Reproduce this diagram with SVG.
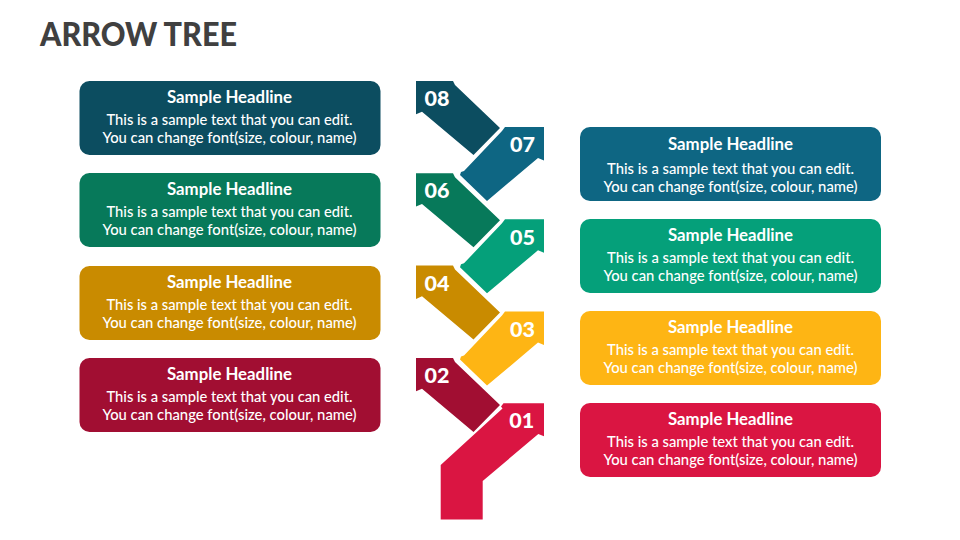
<svg xmlns="http://www.w3.org/2000/svg" xmlns:xlink="http://www.w3.org/1999/xlink" width="960" height="540" viewBox="0 0 960 540">
<style>
.title{font-family:Lato,"Open Sans","Liberation Sans",sans-serif;font-weight:900;font-size:32px;fill:#404040}
.hl{font-family:Lato,"Open Sans","Liberation Sans",sans-serif;font-weight:700;font-size:16.5px;fill:#ffffff;text-anchor:middle}
.bd{font-family:Lato,"Open Sans","Liberation Sans",sans-serif;font-weight:500;font-size:15px;fill:#ffffff;text-anchor:middle}
.num{font-family:Lato,"Open Sans","Liberation Sans",sans-serif;font-weight:900;font-size:21.5px;fill:#ffffff;text-anchor:middle}
</style>
<defs>
<polygon id="arrowL" points="416,0 453,0 455,4 500,47 473.5,74 422,30.7 416,33.3"/>
<polygon id="arrowR" points="544,0 505,0 502,4 464,44 461,45 460,48 487,74 538,31 544,33.5"/>
<rect id="box" x="0" y="0" width="301" height="74" rx="10" ry="10"/>
</defs>
<rect x="0" y="0" width="960" height="540" fill="#ffffff"/>
<text class="title" x="40" y="46" textLength="197" lengthAdjust="spacingAndGlyphs">ARROW TREE</text>

<!-- Arrows -->
<g id="arrow-08"><use xlink:href="#arrowL" href="#arrowL" y="81" fill="#0C4D60"/><text class="num" x="437" y="106">08</text></g>
<g id="arrow-07"><use xlink:href="#arrowR" href="#arrowR" y="127" fill="#0E6683"/><text class="num" x="522.5" y="152.3">07</text></g>
<g id="arrow-06"><use xlink:href="#arrowL" href="#arrowL" y="173.3" fill="#07795A"/><text class="num" x="437" y="198.3">06</text></g>
<g id="arrow-05"><use xlink:href="#arrowR" href="#arrowR" y="219.3" fill="#05A07A"/><text class="num" x="522.5" y="244.6">05</text></g>
<g id="arrow-04"><use xlink:href="#arrowL" href="#arrowL" y="265.6" fill="#C98B00"/><text class="num" x="437" y="290.6">04</text></g>
<g id="arrow-03"><use xlink:href="#arrowR" href="#arrowR" y="311.6" fill="#FEB514"/><text class="num" x="522.5" y="336.9">03</text></g>
<g id="arrow-02"><use xlink:href="#arrowL" href="#arrowL" y="358" fill="#A10E32"/><text class="num" x="437" y="383">02</text></g>
<g id="arrow-01"><polygon points="544,403.3 503.5,403.3 501,406.5 502.5,408.5 440.7,465 440.7,519.5 482.7,519.5 482.7,481 538.3,434 544,436.3" fill="#DA1542"/><text class="num" x="521.7" y="428.3">01</text></g>

<!-- Left boxes -->
<g id="box-08" transform="translate(79.5,81)"><use xlink:href="#box" href="#box" fill="#0C4D60"/>
<text class="hl" x="150" y="22.3" textLength="125" lengthAdjust="spacingAndGlyphs">Sample Headline</text>
<text class="bd" x="150" y="44" textLength="246" lengthAdjust="spacingAndGlyphs">This is a sample text that you can edit.</text>
<text class="bd" x="150" y="62.3" textLength="254" lengthAdjust="spacingAndGlyphs">You can change font(size, colour, name)</text></g>
<g id="box-06" transform="translate(79.5,173)"><use xlink:href="#box" href="#box" fill="#07795A"/>
<text class="hl" x="150" y="22.3" textLength="125" lengthAdjust="spacingAndGlyphs">Sample Headline</text>
<text class="bd" x="150" y="44" textLength="246" lengthAdjust="spacingAndGlyphs">This is a sample text that you can edit.</text>
<text class="bd" x="150" y="62.3" textLength="254" lengthAdjust="spacingAndGlyphs">You can change font(size, colour, name)</text></g>
<g id="box-04" transform="translate(79.5,266)"><use xlink:href="#box" href="#box" fill="#C98B00"/>
<text class="hl" x="150" y="22.3" textLength="125" lengthAdjust="spacingAndGlyphs">Sample Headline</text>
<text class="bd" x="150" y="44" textLength="246" lengthAdjust="spacingAndGlyphs">This is a sample text that you can edit.</text>
<text class="bd" x="150" y="62.3" textLength="254" lengthAdjust="spacingAndGlyphs">You can change font(size, colour, name)</text></g>
<g id="box-02" transform="translate(79.5,358)"><use xlink:href="#box" href="#box" fill="#A10E32"/>
<text class="hl" x="150" y="22.3" textLength="125" lengthAdjust="spacingAndGlyphs">Sample Headline</text>
<text class="bd" x="150" y="44" textLength="246" lengthAdjust="spacingAndGlyphs">This is a sample text that you can edit.</text>
<text class="bd" x="150" y="62.3" textLength="254" lengthAdjust="spacingAndGlyphs">You can change font(size, colour, name)</text></g>

<!-- Right boxes -->
<g id="box-07" transform="translate(580,127)"><use xlink:href="#box" href="#box" fill="#0E6683"/>
<text class="hl" x="150.5" y="22.6" textLength="125" lengthAdjust="spacingAndGlyphs">Sample Headline</text>
<text class="bd" x="150.5" y="46.6" textLength="247" lengthAdjust="spacingAndGlyphs">This is a sample text that you can edit.</text>
<text class="bd" x="150.5" y="65" textLength="254" lengthAdjust="spacingAndGlyphs">You can change font(size, colour, name)</text></g>
<g id="box-05" transform="translate(580,219)"><use xlink:href="#box" href="#box" fill="#05A07A"/>
<text class="hl" x="150.5" y="22.3" textLength="125" lengthAdjust="spacingAndGlyphs">Sample Headline</text>
<text class="bd" x="150.5" y="44" textLength="247" lengthAdjust="spacingAndGlyphs">This is a sample text that you can edit.</text>
<text class="bd" x="150.5" y="62.3" textLength="254" lengthAdjust="spacingAndGlyphs">You can change font(size, colour, name)</text></g>
<g id="box-03" transform="translate(580,311)"><use xlink:href="#box" href="#box" fill="#FEB514"/>
<text class="hl" x="150.5" y="22.3" textLength="125" lengthAdjust="spacingAndGlyphs">Sample Headline</text>
<text class="bd" x="150.5" y="44" textLength="247" lengthAdjust="spacingAndGlyphs">This is a sample text that you can edit.</text>
<text class="bd" x="150.5" y="62.3" textLength="254" lengthAdjust="spacingAndGlyphs">You can change font(size, colour, name)</text></g>
<g id="box-01" transform="translate(580,403)"><use xlink:href="#box" href="#box" fill="#DA1542"/>
<text class="hl" x="150.5" y="22.3" textLength="125" lengthAdjust="spacingAndGlyphs">Sample Headline</text>
<text class="bd" x="150.5" y="44" textLength="247" lengthAdjust="spacingAndGlyphs">This is a sample text that you can edit.</text>
<text class="bd" x="150.5" y="62.3" textLength="254" lengthAdjust="spacingAndGlyphs">You can change font(size, colour, name)</text></g>
</svg>
